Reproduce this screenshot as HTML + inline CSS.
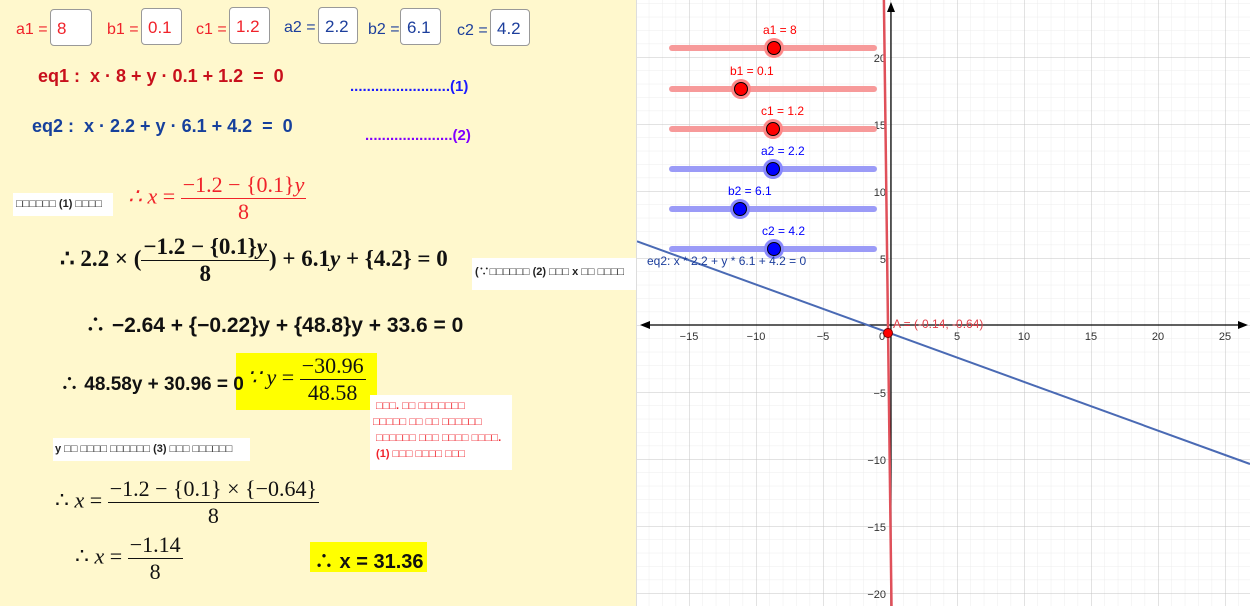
<!DOCTYPE html>
<html><head><meta charset="utf-8"><style>
body{margin:0;width:1250px;height:606px;overflow:hidden;position:relative;background:#fff;font-family:"Liberation Sans","Noto Sans CJK KR",sans-serif}
#left{position:absolute;left:0;top:0;width:636px;height:606px;background:#fff8cd;border-right:1px solid #ddd}
.a{position:absolute;white-space:nowrap}
.box{position:absolute;height:37px;border:1px solid #999;border-radius:4px;background:#fff;font-size:17px;line-height:37px;padding-left:6px;box-sizing:border-box}
.lab{position:absolute;font-size:16px;line-height:20px}
.r{color:#f0222a}.b{color:#1c3e9c}
.eq{font-weight:bold;font-size:18px}
.m{font-family:"Liberation Serif","DejaVu Serif",serif;font-size:22px;color:#111}
.frac{display:inline-block;vertical-align:middle;text-align:center}
.frac span{display:block;padding:0 2px}
.frac .n{border-bottom:1px solid currentColor}
.wb{position:absolute;background:#fff;font-size:11px;font-weight:bold;color:#222}
</style></head><body>
<div id="left">
<div class="lab r" style="left:16px;top:20px">a1 =</div><div class="box r" style="left:50px;top:9px;width:42px">8</div>
<div class="lab r" style="left:107px;top:20px">b1 =</div><div class="box r" style="left:141px;top:8px;width:41px">0.1</div>
<div class="lab r" style="left:196px;top:20px">c1 =</div><div class="box r" style="left:229px;top:7px;width:41px">1.2</div>
<div class="lab b" style="left:284px;top:18px">a2 =</div><div class="box b" style="left:318px;top:7px;width:40px">2.2</div>
<div class="lab b" style="left:368px;top:20px">b2 =</div><div class="box b" style="left:400px;top:8px;width:41px">6.1</div>
<div class="lab b" style="left:457px;top:21px">c2 =</div><div class="box b" style="left:490px;top:9px;width:40px">4.2</div>

<div class="a eq" style="left:38px;top:66px;color:#c8101c">eq1 :&nbsp; x · 8 + y · 0.1 + 1.2 &nbsp;= &nbsp;0</div>
<div class="a" style="left:350px;top:78px;color:#1a1aff;font-weight:bold;font-size:15px">........................(1)</div>
<div class="a eq" style="left:32px;top:116px;color:#16409c">eq2 :&nbsp; x · 2.2 + y · 6.1 + 4.2 &nbsp;= &nbsp;0</div>
<div class="a" style="left:365px;top:127px;color:#8000ff;font-weight:bold;font-size:15px">.....................(2)</div>

<div class="wb" style="left:13px;top:193px;width:100px;height:23px;line-height:23px;padding-left:3px;box-sizing:border-box">□□□□□□ (1) □□□□</div>
<div class="a m" style="left:128px;top:172px;color:#f0222a"><i>∴ x</i> = <span class="frac" style="color:#f0222a"><span class="n">−1.2 − {0.1}<i>y</i></span><span>8</span></span></div>

<div class="a m" style="left:60px;top:234px;font-weight:bold;font-size:23px">∴ 2.2 × (<span class="frac"><span class="n">−1.2 − {0.1}<i>y</i></span><span>8</span></span>) + 6.1<i>y</i> + {4.2} = 0</div>
<div class="wb" style="left:472px;top:258px;width:164px;height:32px;line-height:28px;padding-left:3px;box-sizing:border-box">(∵□□□□□□ (2) □□□ x □□ □□□□</div>

<div class="a eq" style="left:85px;top:309px;font-size:21px;color:#111">∴ −2.64 + {−0.22}y + {48.8}y + 33.6 = 0</div>

<div class="a" style="left:236px;top:353px;width:141px;height:57px;background:#ffff00"></div>
<div class="a eq" style="left:60px;top:369px;font-size:19px;color:#111">∴ 48.58y + 30.96 = 0</div>
<div class="a m" style="left:247px;top:353px"><i>∵ y</i> = <span class="frac"><span class="n">−30.96</span><span>48.58</span></span></div>

<div class="a" style="left:370px;top:395px;width:142px;height:75px;background:#fff;color:#f0222a;font-size:11px;font-weight:bold;line-height:16px;padding:3px 0 0 3px;box-sizing:border-box">&nbsp;□□□. □□ □□□□□□□<br>□□□□□ □□ □□ □□□□□□<br>&nbsp;□□□□□□ □□□ □□□□ □□□□.<br>&nbsp;(1) □□□ □□□□ □□□</div>

<div class="wb" style="left:53px;top:438px;width:197px;height:23px;line-height:23px;padding-left:2px;box-sizing:border-box">y □□ □□□□ □□□□□□ (3) □□□ □□□□□□</div>

<div class="a m" style="left:55px;top:476px">∴ <i>x</i> = <span class="frac"><span class="n">−1.2 − {0.1} × {−0.64}</span><span>8</span></span></div>
<div class="a m" style="left:75px;top:532px">∴ <i>x</i> = <span class="frac"><span class="n">−1.14</span><span>8</span></span></div>
<div class="a" style="left:310px;top:542px;width:117px;height:30px;background:#ffff00"></div>
<div class="a eq" style="left:314px;top:545px;font-size:20px;color:#111">∴ x = 31.36</div>
</div>

<svg style="position:absolute;left:0;top:0" width="1250" height="606">
<defs>
<pattern id="mi" patternUnits="userSpaceOnUse" x="890" y="325" width="13.4" height="13.4"><path d="M0 0V13.4M0 0H13.4" stroke="#ececec" stroke-width="1" fill="none"/></pattern>
<pattern id="ma" patternUnits="userSpaceOnUse" x="890" y="325" width="67" height="67"><path d="M0 0V67M0 0H67" stroke="#c4c4c4" stroke-width="1" fill="none"/></pattern>
<clipPath id="cp"><rect x="637" y="0" width="613" height="606"/></clipPath>
</defs>
<g clip-path="url(#cp)">
<rect x="637" y="0" width="613" height="606" fill="#fff"/>
<rect x="637" y="0" width="613" height="606" fill="url(#mi)"/>
<rect x="637" y="0" width="613" height="606" fill="url(#ma)"/>
<line x1="642" y1="325" x2="1246" y2="325" stroke="#000" stroke-width="1.2"/>
<path d="M640 325l10-4v8z M1248 325l-10-4v8z" fill="#000"/>
<line x1="891" y1="4" x2="891" y2="606" stroke="#000" stroke-width="1.2"/>
<path d="M891 2l-4 10h8z" fill="#000"/>
<g font-size="11" fill="#333" text-anchor="middle" font-family="Liberation Sans,sans-serif">
<text x="689" y="340">−15</text><text x="756" y="340">−10</text><text x="823" y="340">−5</text><text x="882" y="340">0</text>
<text x="957" y="340">5</text><text x="1024" y="340">10</text><text x="1091" y="340">15</text><text x="1158" y="340">20</text><text x="1225" y="340">25</text>
<g text-anchor="end"><text x="886" y="62">20</text><text x="886" y="129">15</text><text x="886" y="196">10</text><text x="886" y="263">5</text>
<text x="886" y="397">−5</text><text x="886" y="464">−10</text><text x="886" y="531">−15</text><text x="886" y="598">−20</text></g>
</g>
<line x1="637" y1="241.3" x2="1250" y2="464" stroke="#4a6ab4" stroke-width="2"/>
<line x1="883.9" y1="0" x2="891.5" y2="606" stroke="#e0505a" stroke-width="2.5"/>
<g stroke-width="6" stroke-linecap="round">
<line x1="672" y1="48" x2="874" y2="48" stroke="#f79a9a"/>
<line x1="672" y1="89" x2="874" y2="89" stroke="#f79a9a"/>
<line x1="672" y1="129" x2="874" y2="129" stroke="#f79a9a"/>
<line x1="672" y1="169" x2="874" y2="169" stroke="#9b9bf7"/>
<line x1="672" y1="209" x2="874" y2="209" stroke="#9b9bf7"/>
<line x1="672" y1="249" x2="874" y2="249" stroke="#9b9bf7"/>
</g>
<g stroke="#000" stroke-width="1">
<circle cx="774" cy="48" r="10" fill="#f88" stroke="none"/><circle cx="774" cy="48" r="6.5" fill="#f00"/>
<circle cx="741" cy="89" r="10" fill="#f88" stroke="none"/><circle cx="741" cy="89" r="6.5" fill="#f00"/>
<circle cx="773" cy="129" r="10" fill="#f88" stroke="none"/><circle cx="773" cy="129" r="6.5" fill="#f00"/>
<circle cx="773" cy="169" r="10" fill="#88f" stroke="none"/><circle cx="773" cy="169" r="6.5" fill="#00f"/>
<circle cx="740" cy="209" r="10" fill="#88f" stroke="none"/><circle cx="740" cy="209" r="6.5" fill="#00f"/>
<circle cx="774" cy="249" r="10" fill="#88f" stroke="none"/><circle cx="774" cy="249" r="6.5" fill="#00f"/>
</g>
<g font-size="12" font-family="Liberation Sans,sans-serif">
<text x="763" y="34" fill="#f00">a1 = 8</text>
<text x="730" y="75" fill="#f00">b1 = 0.1</text>
<text x="761" y="115" fill="#f00">c1 = 1.2</text>
<text x="761" y="155" fill="#00f">a2 = 2.2</text>
<text x="728" y="195" fill="#00f">b2 = 6.1</text>
<text x="762" y="235" fill="#00f">c2 = 4.2</text>
<text x="647" y="265" fill="#1c3e9c">eq2: x * 2.2 + y * 6.1 + 4.2 = 0</text>
<text x="893" y="328" fill="#e0404a">A = (-0.14, -0.64)</text>
</g>
<circle cx="888" cy="333" r="4.5" fill="#f00" stroke="#700" stroke-width="1"/>
</g>
</svg>
</body></html>
